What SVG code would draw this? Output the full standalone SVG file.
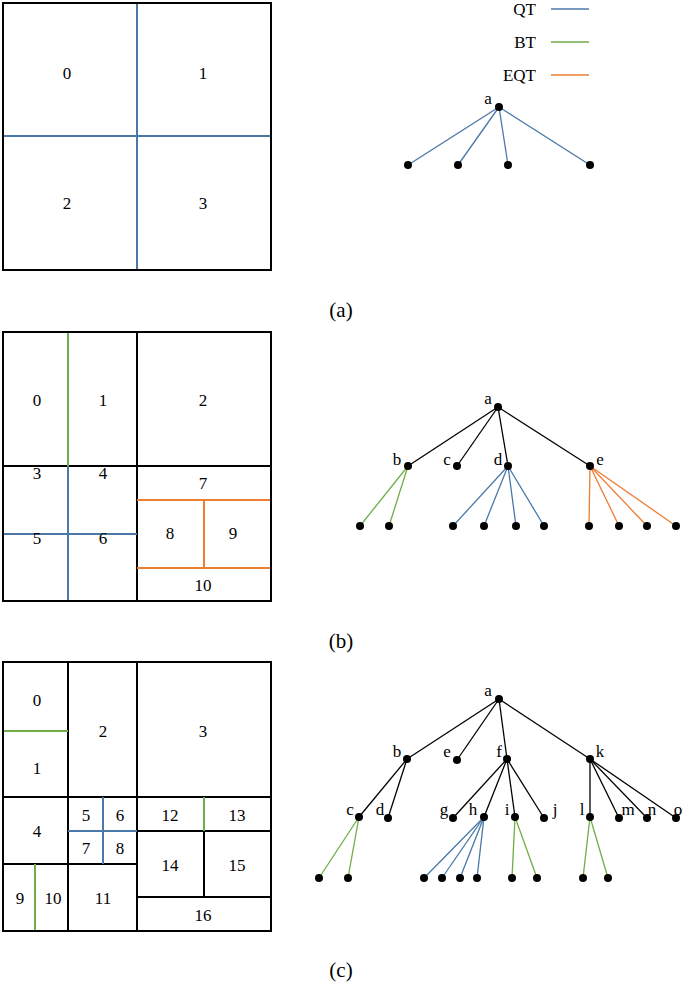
<svg xmlns="http://www.w3.org/2000/svg" width="685" height="985" viewBox="0 0 685 985" font-family="'Liberation Serif', 'Times New Roman', serif">
<style>
text{font-family:'Liberation Serif','Times New Roman','DejaVu Serif',serif;font-size:17px;fill:#000}
.c{text-anchor:middle}
.k{stroke:#000;stroke-width:2;fill:none}
.q{stroke:#4a78a8;stroke-width:2;fill:none}
.g{stroke:#70ad47;stroke-width:2;fill:none}
.o{stroke:#ed7d31;stroke-width:2;fill:none}
.t{stroke:#000;stroke-width:1.3;fill:none}
.tq{stroke:#4a78a8;stroke-width:1.3}
.tg{stroke:#70ad47;stroke-width:1.3}
.to{stroke:#ed7d31;stroke-width:1.3}
circle{fill:#000}
</style>
<rect width="685" height="985" fill="#fff"/>
<g id="legend">
<text x="536" y="15" text-anchor="end">QT</text><line x1="551" y1="9" x2="589" y2="9" class="tq"/>
<text x="536" y="48" text-anchor="end">BT</text><line x1="551" y1="42" x2="589" y2="42" class="tg"/>
<text x="536" y="81" text-anchor="end">EQT</text><line x1="551" y1="75" x2="589" y2="75" class="to"/>
</g>
<g id="grid-a">
<line x1="137" y1="3" x2="137" y2="270" class="q"/>
<line x1="3" y1="136" x2="271" y2="136" class="q"/>
<rect x="3" y="3" width="268" height="267" class="k"/>
<text x="67" y="79" class="c">0</text><text x="203" y="79" class="c">1</text>
<text x="67" y="209" class="c">2</text><text x="203" y="209" class="c">3</text>
</g>
<g id="grid-b">
<line x1="137" y1="332" x2="137" y2="601" class="k"/>
<line x1="3" y1="466" x2="271" y2="466" class="k"/>
<line x1="68" y1="332" x2="68" y2="466" class="g"/>
<line x1="68" y1="466" x2="68" y2="601" class="q"/>
<line x1="3" y1="534" x2="137" y2="534" class="q"/>
<line x1="137" y1="500" x2="271" y2="500" class="o"/>
<line x1="137" y1="568" x2="271" y2="568" class="o"/>
<line x1="204" y1="500" x2="204" y2="568" class="o"/>
<rect x="3" y="332" width="268" height="269" class="k"/>
<text x="37" y="406" class="c">0</text><text x="103" y="406" class="c">1</text><text x="203" y="406" class="c">2</text>
<text x="37" y="479" class="c">3</text><text x="103" y="479" class="c">4</text><text x="203" y="489" class="c">7</text>
<text x="37" y="544" class="c">5</text><text x="103" y="544" class="c">6</text>
<text x="170" y="539" class="c">8</text><text x="233" y="539" class="c">9</text><text x="203" y="591" class="c">10</text>
</g>
<g id="grid-c">
<line x1="68" y1="662" x2="68" y2="931" class="k"/>
<line x1="137" y1="662" x2="137" y2="931" class="k"/>
<line x1="3" y1="797" x2="271" y2="797" class="k"/>
<line x1="3" y1="864" x2="137" y2="864" class="k"/>
<line x1="137" y1="831" x2="271" y2="831" class="k"/>
<line x1="137" y1="897" x2="271" y2="897" class="k"/>
<line x1="204" y1="831" x2="204" y2="897" class="k"/>
<line x1="204" y1="797" x2="204" y2="831" class="g"/>
<line x1="3" y1="731" x2="68" y2="731" class="g"/>
<line x1="35" y1="864" x2="35" y2="931" class="g"/>
<line x1="103" y1="797" x2="103" y2="864" class="q"/>
<line x1="68" y1="831" x2="137" y2="831" class="q"/>
<rect x="3" y="662" width="268" height="269" class="k"/>
<text x="37" y="706" class="c">0</text><text x="37" y="774" class="c">1</text><text x="103" y="737" class="c">2</text><text x="203" y="737" class="c">3</text>
<text x="37" y="837" class="c">4</text><text x="86" y="821" class="c">5</text><text x="120" y="821" class="c">6</text>
<text x="86" y="854" class="c">7</text><text x="120" y="854" class="c">8</text>
<text x="170" y="821" class="c">12</text><text x="237" y="821" class="c">13</text>
<text x="170" y="871" class="c">14</text><text x="237" y="871" class="c">15</text>
<text x="20" y="904" class="c">9</text><text x="53" y="904" class="c">10</text><text x="103" y="904" class="c">11</text>
<text x="203" y="921" class="c">16</text>
</g>
<g id="connectors">
<g class="tq"><line x1="499" y1="107" x2="408" y2="165"/><line x1="499" y1="107" x2="458" y2="165"/><line x1="499" y1="107" x2="508" y2="165"/><line x1="499" y1="107" x2="590" y2="165"/></g>
<g class="t"><line x1="498" y1="407" x2="408" y2="466"/><line x1="498" y1="407" x2="457" y2="466"/><line x1="498" y1="407" x2="508" y2="466"/><line x1="498" y1="407" x2="590" y2="466"/></g>
<g class="tg"><line x1="408" y1="466" x2="360" y2="526"/><line x1="408" y1="466" x2="389" y2="526"/></g>
<g class="tq"><line x1="508" y1="466" x2="453" y2="526"/><line x1="508" y1="466" x2="484" y2="526"/><line x1="508" y1="466" x2="516" y2="526"/><line x1="508" y1="466" x2="544" y2="526"/></g>
<g class="to"><line x1="590" y1="466" x2="589" y2="526"/><line x1="590" y1="466" x2="619" y2="526"/><line x1="590" y1="466" x2="647" y2="526"/><line x1="590" y1="466" x2="676" y2="526"/></g>
<g class="t"><line x1="499" y1="699" x2="407" y2="759"/><line x1="499" y1="699" x2="457" y2="760"/><line x1="499" y1="699" x2="507" y2="759"/><line x1="499" y1="699" x2="590" y2="759"/>
<line x1="407" y1="759" x2="359" y2="817"/><line x1="407" y1="759" x2="388" y2="818"/>
<line x1="507" y1="759" x2="453" y2="818"/><line x1="507" y1="759" x2="484" y2="817"/><line x1="507" y1="759" x2="515" y2="817"/><line x1="507" y1="759" x2="544" y2="818"/>
<line x1="590" y1="759" x2="590" y2="817"/><line x1="590" y1="759" x2="619" y2="818"/><line x1="590" y1="759" x2="647" y2="818"/><line x1="590" y1="759" x2="676" y2="818"/></g>
<g class="tg"><line x1="359" y1="817" x2="319" y2="878"/><line x1="359" y1="817" x2="348" y2="878"/><line x1="515" y1="817" x2="512" y2="878"/><line x1="515" y1="817" x2="537" y2="878"/><line x1="590" y1="817" x2="583" y2="878"/><line x1="590" y1="817" x2="608" y2="878"/></g>
<g class="tq"><line x1="484" y1="817" x2="424" y2="878"/><line x1="484" y1="817" x2="442" y2="878"/><line x1="484" y1="817" x2="460" y2="878"/><line x1="484" y1="817" x2="477" y2="878"/></g>
</g>
<g id="tree-a">
<circle cx="499" cy="107" r="4"/><circle cx="408" cy="165" r="4"/><circle cx="458" cy="165" r="4"/><circle cx="508" cy="165" r="4"/><circle cx="590" cy="165" r="4"/>
<text x="488" y="104" class="c">a</text>
</g>
<g id="tree-b">
<circle cx="498" cy="407" r="4"/><circle cx="408" cy="466" r="4"/><circle cx="457" cy="466" r="4"/><circle cx="508" cy="466" r="4"/><circle cx="590" cy="466" r="4"/>
<circle cx="360" cy="526" r="4"/><circle cx="389" cy="526" r="4"/><circle cx="453" cy="526" r="4"/><circle cx="484" cy="526" r="4"/><circle cx="516" cy="526" r="4"/><circle cx="544" cy="526" r="4"/><circle cx="589" cy="526" r="4"/><circle cx="619" cy="526" r="4"/><circle cx="647" cy="526" r="4"/><circle cx="676" cy="526" r="4"/>
<text x="488" y="404" class="c">a</text><text x="397" y="465" class="c">b</text><text x="447" y="465" class="c">c</text><text x="498" y="465" class="c">d</text><text x="600" y="465" class="c">e</text>
</g>
<g id="tree-c">
<circle cx="499" cy="699" r="4"/><circle cx="407" cy="759" r="4"/><circle cx="457" cy="760" r="4"/><circle cx="507" cy="759" r="4"/><circle cx="590" cy="759" r="4"/>
<circle cx="359" cy="817" r="4"/><circle cx="388" cy="818" r="4"/><circle cx="453" cy="818" r="4"/><circle cx="484" cy="817" r="4"/><circle cx="515" cy="817" r="4"/><circle cx="544" cy="818" r="4"/><circle cx="590" cy="817" r="4"/><circle cx="619" cy="818" r="4"/><circle cx="647" cy="818" r="4"/><circle cx="676" cy="818" r="4"/>
<circle cx="319" cy="878" r="4"/><circle cx="348" cy="878" r="4"/><circle cx="424" cy="878" r="4"/><circle cx="442" cy="878" r="4"/><circle cx="460" cy="878" r="4"/><circle cx="477" cy="878" r="4"/><circle cx="512" cy="878" r="4"/><circle cx="537" cy="878" r="4"/><circle cx="583" cy="878" r="4"/><circle cx="608" cy="878" r="4"/>
<text x="488" y="696" class="c">a</text><text x="397" y="757" class="c">b</text><text x="447" y="757" class="c">e</text><text x="499" y="757" class="c">f</text><text x="600" y="757" class="c">k</text>
<text x="350" y="815" class="c">c</text><text x="380" y="815" class="c">d</text><text x="444" y="815" class="c">g</text><text x="473" y="815" class="c">h</text><text x="507" y="815" class="c">i</text><text x="555" y="815" class="c">j</text><text x="582" y="815" class="c">l</text><text x="628" y="815" class="c">m</text><text x="652" y="815" class="c">n</text><text x="678" y="815" class="c">o</text>
</g>
<g id="captions">
<text x="341" y="317" class="c" style="font-size:21px">(a)</text>
<text x="341" y="648" class="c" style="font-size:21px">(b)</text>
<text x="341" y="977" class="c" style="font-size:21px">(c)</text>
</g>
</svg>
